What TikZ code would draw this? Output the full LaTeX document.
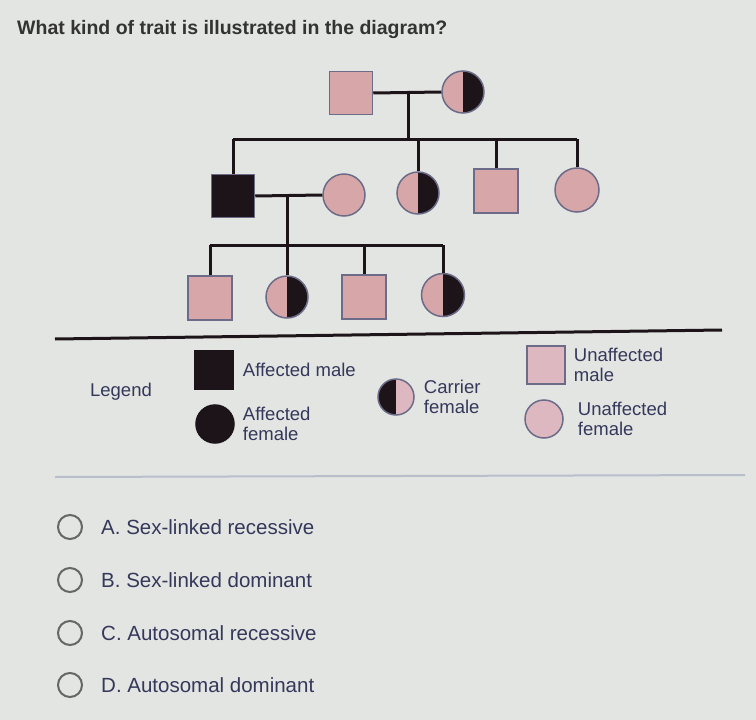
\documentclass[tikz,border=0pt]{standalone}
\usepackage{fontspec}
\setmainfont{Liberation Sans}
\usetikzlibrary{positioning}
\definecolor{bg}{HTML}{E3E5E2}
\definecolor{pinkfill}{HTML}{D6A6A8}
\definecolor{lightpink}{HTML}{DDB8C1}
\definecolor{ink}{HTML}{1C1418}
\definecolor{edge}{HTML}{6C6C88}
\definecolor{navy}{HTML}{35385A}
\definecolor{rulegray}{HTML}{B9BECB}

\begin{document}
\begin{tikzpicture}[x=1pt,y=-1pt,male/.style={draw=edge,line width=1.5pt,fill=pinkfill,minimum size=43pt,inner sep=0pt},female/.style={circle,draw=edge,line width=1.5pt,fill=pinkfill,minimum size=42pt,inner sep=0pt},carrierr/.style={female,path picture={\fill[ink] (path picture bounding box.north) rectangle (path picture bounding box.south east);}},carrierl/.style={female,path picture={\fill[ink] (path picture bounding box.south west) rectangle (path picture bounding box.north);}},link/.style={draw=ink,line width=3pt},legtext/.style={font=\fontsize{18.5}{20}\selectfont,text=navy,align=left,inner sep=0pt},answer/.style={font=\fontsize{20.5}{22}\selectfont,text=navy,inner sep=0pt},tick/.style={circle,draw=black!60,line width=2pt,minimum size=24pt,inner sep=0pt}]
\fill[bg] (0,0) rectangle (756,720);
\node[anchor=west,font=\bfseries\fontsize{19.5}{22}\selectfont,text=black!80,inner sep=0pt] (title) at (17,30) {What kind of trait is illustrated in the diagram?};
% generation I
\node[male] (m1) at (351,93) {};
\node[carrierr] (f1) at (463,92) {};
\coordinate (c1) at (408,93);
\coordinate (s1) at (408,139);
% generation II
\node[male,fill=ink] (m2) at (233,196) {};
\node[female] (f2) at (344,195) {};
\node[carrierr] (c2) at (418,193) {};
\node[male,minimum size=44pt] (m3) at (496,191) {};
\node[female,minimum size=44pt] (f3) at (577,190) {};
\coordinate (c2a) at (287,196);
\coordinate (s2) at (287,245);
% generation III
\node[male,minimum size=44pt] (m4) at (210,298) {};
\node[carrierr] (c3) at (287,297) {};
\node[male,minimum size=44pt] (m5) at (364,297) {};
\node[carrierr,minimum size=43pt] (c4) at (443,295) {};
\draw[link] (m1.east) -- (f1.west);
\draw[link] (c1) -- (s1);
\draw[link] (m2.north |- s1) -- (f3.north |- s1);
\draw[link] (m2.north |- s1) -- (m2.north);
\draw[link] (c2.north |- s1) -- (c2.north);
\draw[link] (m3.north |- s1) -- (m3.north);
\draw[link] (f3.north |- s1) -- (f3.north);
\draw[link] (m2.east) -- (f2.west);
\draw[link] (c2a) -- (c3.north);
\draw[link] (m4.north |- s2) -- (c4.north |- s2);
\draw[link] (m4.north |- s2) -- (m4.north);
\draw[link] (m5.north |- s2) -- (m5.north);
\draw[link] (c4.north |- s2) -- (c4.north);
% legend
\draw[ink,line width=3pt] (55,339) -- (722,330);
\node[legtext] (leg) at (121,392) {Legend};
\node[male,fill=ink,draw=ink,minimum size=38pt] (am) at (214,370) {};
\node[female,fill=ink,draw=ink,minimum size=38pt] (af) at (215,424) {};
\node[carrierl,fill=lightpink,minimum size=36pt] (cf) at (396,397) {};
\node[male,fill=lightpink,minimum size=38pt] (um) at (546,365) {};
\node[female,fill=lightpink,minimum size=38pt] (uf) at (544,419) {};
\node[legtext,right=9pt of am] {Affected male};
\node[legtext,right=8pt of af] {Affected\\female};
\node[legtext,right=9pt of cf] {Carrier\\female};
\node[legtext,right=8pt of um] {Unaffected\\male};
\node[legtext,right=14pt of uf] {Unaffected\\female};
\draw[rulegray,line width=2pt] (55,477) -- (745,475);
% answers
\node[tick] (ra) at (70,527) {};
\node[tick] (rb) at (70,580) {};
\node[tick] (rc) at (70,633) {};
\node[tick] (rd) at (70,685) {};
\node[answer,right=18pt of ra] {A. Sex-linked recessive};
\node[answer,right=18pt of rb] {B. Sex-linked dominant};
\node[answer,right=18pt of rc] {C. Autosomal recessive};
\node[answer,right=18pt of rd] {D. Autosomal dominant};
\end{tikzpicture}
\end{document}
